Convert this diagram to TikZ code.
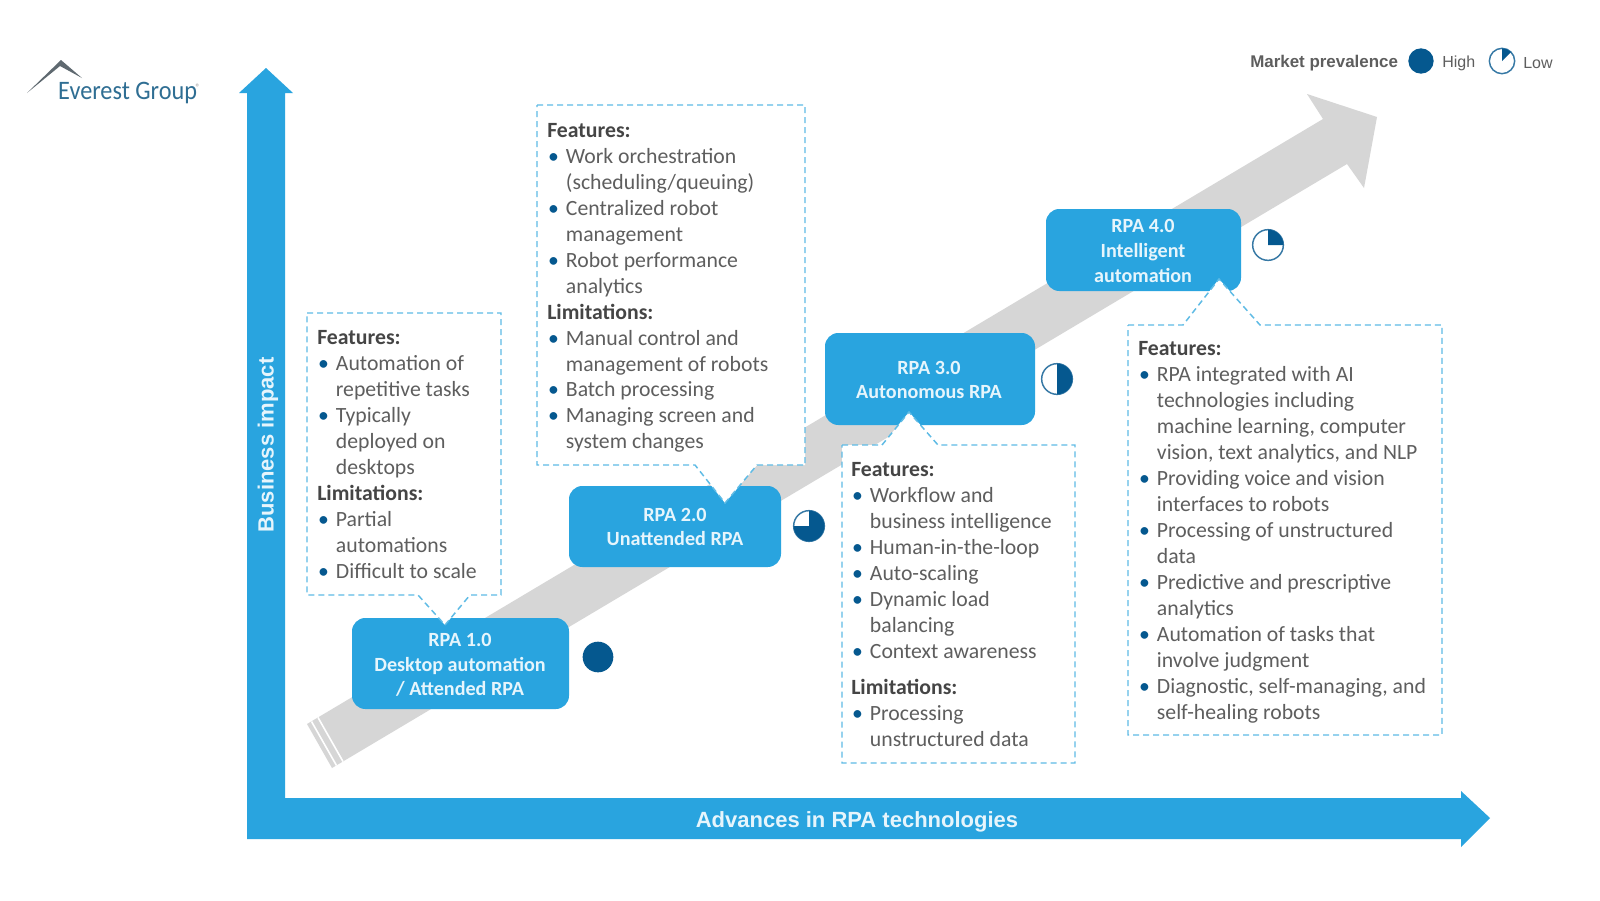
\documentclass[tikz,border=0pt]{standalone}
\usepackage{fontspec}
\setmainfont{Carlito}
\newfontfamily\axisfont{Liberation Sans}
\definecolor{rpablue}{HTML}{29A4DF}
\definecolor{rpadark}{HTML}{05588F}
\definecolor{rpadash}{HTML}{5FBBE5}
\definecolor{rpagray}{HTML}{D6D6D6}
\definecolor{rpatext}{HTML}{5E5E5E}
\definecolor{rpahead}{HTML}{454545}
\definecolor{rpawhite}{HTML}{E6F5FC}
\definecolor{rpalogo}{HTML}{2F6E93}
\newcommand{\bl}[1]{\makebox[14pt][l]{\hspace*{0.6pt}\textcolor{rpadark}{•}}#1}
\newcommand{\ct}[1]{\hspace*{14pt}#1}
\newcommand{\hd}[1]{\textcolor{rpahead}{\textbf{#1}}}
\tikzset{
  axisarrow/.style={fill=rpablue,draw=none},
  callout/.style={fill=white,draw=rpadash,line width=1.1pt,dash pattern=on 4.5pt off 3pt},
  listtext/.style={anchor=north west,inner sep=0pt,align=left,text=rpatext,font=\fontsize{16.3}{19.47}\selectfont},
  rpabox/.style={fill=rpablue,draw=none,rounded corners=10pt},
  rpalabel/.style={inner sep=0pt,align=center,text=rpawhite,font=\bfseries\fontsize{15.1}{18.4}\selectfont},
  axislabel/.style={inner sep=0pt,text=rpawhite,font=\axisfont\bfseries\fontsize{16.5}{18}\selectfont},
  legendtext/.style={inner sep=0pt,text=rpatext,font=\axisfont\fontsize{12}{13}\selectfont},
  dial/.style={fill=white,draw=rpadark!80!white,line width=1.1pt},
  dialfill/.style={fill=rpadark,draw=none}
}
\begin{document}
\begin{tikzpicture}[x=0.75pt,y=-0.75pt]
\useasboundingbox (0,0) rectangle (1600,900);
\fill[white] (0,0) rectangle (1600,900);

% logo
\fill[rpalogo!20!gray!85!black] (27,93) -- (61,60) -- (82,78) -- (60,66) -- cycle;
\node[inner sep=0pt,anchor=base west,text=rpalogo,xscale=0.91,font=\fontsize{20}{22}\selectfont] (logo) at (58,99) {Everest Group};
\node[inner sep=0pt,text=gray!80,font=\fontsize{7}{8}\selectfont] (logor) at (198,87) {®};

% axes
\fill[axisarrow] (247,839) -- (247,93) -- (239,93) -- (266,68) -- (293,93) -- (285,93) -- (285,798) -- (1461,798) -- (1461,791) -- (1490,818) -- (1461,847) -- (1461,839) -- cycle;
\node[axislabel,rotate=90] (yaxis) at (268,445) {Business impact};
\node[axislabel] (xaxis) at (857,822) {Advances in RPA technologies};

% grey progress arrow
\fill[rpagray] (307,724) -- (1323,119) -- (1307,94) -- (1377,117) -- (1364,188) -- (1347,164) -- (332,768) -- cycle;
\draw[white,line width=1.2pt] (311.5,721.5) -- (336.5,765.5);
\draw[white,line width=1.2pt] (318,717.5) -- (343,761.5);

% RPA boxes
\fill[rpabox] (352,618) rectangle (569,709);
\fill[rpabox] (569,486) rectangle (781,567);
\fill[rpabox] (825,333) rectangle (1035,425);
\fill[rpabox] (1046,209) rectangle (1241,291);

% callouts
\path[callout] (307,313) -- (501,313) -- (501,595) -- (470,595) -- (445,625) -- (418,595) -- (307,595) -- cycle;
\path[callout] (537,105) -- (805,105) -- (805,465) -- (757,465) -- (725,503) -- (695,465) -- (537,465) -- cycle;
\path[callout] (842,445) -- (882,445) -- (909,412) -- (938,445) -- (1075,445) -- (1075,763) -- (842,763) -- cycle;
\path[callout] (1128,325) -- (1183,325) -- (1219,279) -- (1260,325) -- (1442,325) -- (1442,735) -- (1128,735) -- cycle;

% RPA labels
\node[rpalabel] (rpa1) at (460,665) {RPA 1.0\\Desktop automation\\/ Attended RPA};
\node[rpalabel] (rpa2) at (675,527) {RPA 2.0\\Unattended RPA};
\node[rpalabel] (rpa3) at (929,380) {RPA 3.0\\Autonomous RPA};
\node[rpalabel] (rpa4) at (1143,251) {RPA 4.0\\Intelligent\\automation};

% lists
\node[listtext] (list1) at (317,330.5) {\hd{Features:}\\
\bl{Automation of}\\ \ct{repetitive tasks}\\
\bl{Typically}\\ \ct{deployed on}\\ \ct{desktops}\\
\hd{Limitations:}\\
\bl{Partial}\\ \ct{automations}\\
\bl{Difficult to scale}};

\node[listtext] (list2) at (547,123) {\hd{Features:}\\
\bl{Work orchestration}\\ \ct{(scheduling/queuing)}\\
\bl{Centralized robot}\\ \ct{management}\\
\bl{Robot performance}\\ \ct{analytics}\\
\hd{Limitations:}\\
\bl{Manual control and}\\ \ct{management of robots}\\
\bl{Batch processing}\\
\bl{Managing screen and}\\ \ct{system changes}};

\node[listtext] (list3) at (851,462.5) {\hd{Features:}\\
\bl{Workflow and}\\ \ct{business intelligence}\\
\bl{Human-in-the-loop}\\
\bl{Auto-scaling}\\
\bl{Dynamic load}\\ \ct{balancing}\\
\bl{Context awareness}\\[7.5pt]
\hd{Limitations:}\\
\bl{Processing}\\ \ct{unstructured data}};

\node[listtext] (list4) at (1138,341.5) {\hd{Features:}\\
\bl{RPA integrated with AI}\\ \ct{technologies including}\\ \ct{machine learning, computer}\\ \ct{vision, text analytics, and NLP}\\
\bl{Providing voice and vision}\\ \ct{interfaces to robots}\\
\bl{Processing of unstructured}\\ \ct{data}\\
\bl{Predictive and prescriptive}\\ \ct{analytics}\\
\bl{Automation of tasks that}\\ \ct{involve judgment}\\
\bl{Diagnostic, self-managing, and}\\ \ct{self-healing robots}};

% dials
\fill[rpadark] (598,657) circle[radius=11.5pt];
\draw[dial] (809,526) circle[radius=11.5pt];
\fill[dialfill] (809,526) -- ++(0pt,11.5pt) arc[start angle=90,end angle=-180,radius=11.5pt] -- cycle;
\draw[dial] (1057,379) circle[radius=11.5pt];
\fill[dialfill] (1057,379) -- ++(0pt,11.5pt) arc[start angle=90,end angle=-90,radius=11.5pt] -- cycle;
\draw[dial] (1268,245) circle[radius=11.5pt];
\fill[dialfill] (1268,245) -- ++(0pt,11.5pt) arc[start angle=90,end angle=0,radius=11.5pt] -- cycle;

% legend
\node[legendtext,anchor=west,font=\axisfont\bfseries\fontsize{12.7}{14}\selectfont] (legendtitle) at (1250,63) {Market prevalence};
\fill[rpadark] (1421,61) circle[radius=9.5pt];
\node[legendtext,anchor=west] (legendhigh) at (1442,63) {High};
\draw[dial] (1502,61) circle[radius=9.5pt];
\fill[dialfill] (1502,61) -- ++(0pt,9.5pt) arc[start angle=90,end angle=45,radius=9.5pt] -- cycle;
\node[legendtext,anchor=west] (legendlow) at (1523,63) {Low};
\end{tikzpicture}
\end{document}
